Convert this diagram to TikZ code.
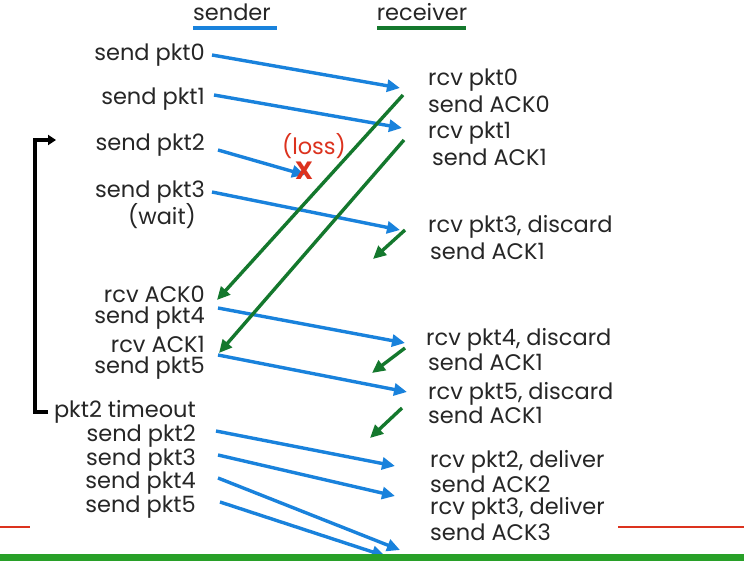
\documentclass[tikz,border=0pt]{standalone}
\usepackage{fontspec}
\setmainfont{Poppins}
\usetikzlibrary{arrows.meta}
\definecolor{pblue}{RGB}{25,130,220}
\definecolor{agreen}{RGB}{20,120,45}
\definecolor{lred}{RGB}{220,50,30}
\definecolor{bgreen}{RGB}{40,160,40}
\begin{document}
\begin{tikzpicture}[x=1pt,y=-1pt,
  lbl/.style={font=\fontsize{22.5}{22.5}\selectfont,inner sep=0pt,text=black!85},
  sl/.style={lbl,anchor=east},
  rl/.style={lbl,anchor=west},
  pk/.style={draw=pblue,line width=3.4pt,-{Triangle[length=13pt,width=12pt]}},
  ak/.style={draw=agreen,line width=3.4pt,-{Triangle[length=13pt,width=12pt]}}]
\useasboundingbox (0,0) rectangle (744,561);
\fill[white] (0,0) rectangle (744,561);
\node[lbl] (snd) at (232,12) {sender};
\node[lbl] (rcv) at (422,12) {receiver};
\draw[line width=3.2pt,pblue] (193,28) -- (277,28);
\draw[line width=3.2pt,agreen] (377,28) -- (466,28);
% sender texts
\node[sl] (s0) at (205,55) {send pkt0};
\node[sl] (s1) at (205,99) {send pkt1};
\node[sl] (s2) at (205,145) {send pkt2};
\node[sl] (s3) at (205,192) {send pkt3};
\node[lbl] (w) at (162,216) {(wait)};
\node[sl] (a0) at (205,294) {rcv ACK0};
\node[sl] (s4) at (205,318) {send pkt4};
\node[sl] (a1) at (205,344) {rcv ACK1};
\node[sl] (s5) at (205,368) {send pkt5};
\node[sl] (to) at (196,412) {pkt2 timeout};
\node[sl] (t2) at (196,436) {send pkt2};
\node[sl] (t3) at (196,460) {send pkt3};
\node[sl] (t4) at (196,483) {send pkt4};
\node[sl] (t5) at (196,507) {send pkt5};
% receiver texts
\node[rl] (r0) at (428,80) {rcv pkt0};
\node[rl] (k0) at (428,104) {send ACK0};
\node[rl] (r1) at (428,133) {rcv pkt1};
\node[rl] (k1) at (432,157) {send ACK1};
\node[rl] (r3) at (428,227) {rcv pkt3, discard};
\node[rl] (k3) at (430,251) {send ACK1};
\node[rl] (r4) at (426,340) {rcv pkt4, discard};
\node[rl] (k4) at (428,362) {send ACK1};
\node[rl] (r5) at (428,394) {rcv pkt5, discard};
\node[rl] (k5) at (428,415) {send ACK1};
\node[rl] (d2) at (430,462) {rcv pkt2, deliver};
\node[rl] (e2) at (430,484) {send ACK2};
\node[rl] (d3) at (430,509) {rcv pkt3, deliver};
\node[rl] (e3) at (430,532) {send ACK3};
% coordinates
\coordinate (p0a) at (212,55); \coordinate (p0b) at (400,88);
\coordinate (p1a) at (214,95); \coordinate (p1b) at (402,128);
\coordinate (p2a) at (218,150); \coordinate (p2b) at (305,175);
\coordinate (p3a) at (212,192); \coordinate (p3b) at (400,230);
\coordinate (p4a) at (218,308); \coordinate (p4b) at (405,343);
\coordinate (p5a) at (218,355); \coordinate (p5b) at (407,392);
\coordinate (q2a) at (216,431); \coordinate (q2b) at (395,466);
\coordinate (q3a) at (218,455); \coordinate (q3b) at (395,496);
\coordinate (q4a) at (218,478); \coordinate (q4b) at (400,550);
\coordinate (q5a) at (220,502); \coordinate (q5b) at (385,556);
\draw[pk] (p0a) -- (p0b);
\draw[pk] (p1a) -- (p1b);
\draw[pk] (p2a) -- (p2b);
\draw[pk] (p3a) -- (p3b);
\draw[pk] (p4a) -- (p4b);
\draw[pk] (p5a) -- (p5b);
\draw[pk] (q2a) -- (q2b);
\draw[pk] (q3a) -- (q3b);
\draw[pk] (q4a) -- (q4b);
\draw[pk] (q5a) -- (q5b);
% acks
\coordinate (c0a) at (403,95); \coordinate (c0b) at (217,300);
\coordinate (c1a) at (404,140); \coordinate (c1b) at (219,353);
\coordinate (c3a) at (405,230); \coordinate (c3b) at (373,259);
\coordinate (c4a) at (405,348); \coordinate (c4b) at (372,373);
\coordinate (c5a) at (402,408); \coordinate (c5b) at (370,438);
\draw[ak] (c0a) -- (c0b);
\draw[ak] (c1a) -- (c1b);
\draw[ak] (c3a) -- (c3b);
\draw[ak] (c4a) -- (c4b);
\draw[ak] (c5a) -- (c5b);
% loss
\node[font=\fontsize{25}{25}\selectfont\bfseries,text=lred,inner sep=0pt] (x) at (304,171) {X};
\node[font=\fontsize{22.5}{22.5}\selectfont,text=lred,inner sep=0pt] (loss) at (314,146) {(loss)};
% timeout bracket
\coordinate (b0) at (48,412); \coordinate (b1) at (35,412);
\coordinate (b2) at (35,140); \coordinate (b3) at (56,140);
\draw[line width=3.2pt,-{Triangle[length=8pt,width=10pt]}] (b0) -- (b1) -- (b2) -- (b3);
% bottom lines
\draw[line width=1.6pt,lred] (0,527) -- (30,527);
\draw[line width=1.6pt,lred] (618,527) -- (744,527);
\fill[bgreen] (0,554) rectangle (744,561);
\end{tikzpicture}
\end{document}
